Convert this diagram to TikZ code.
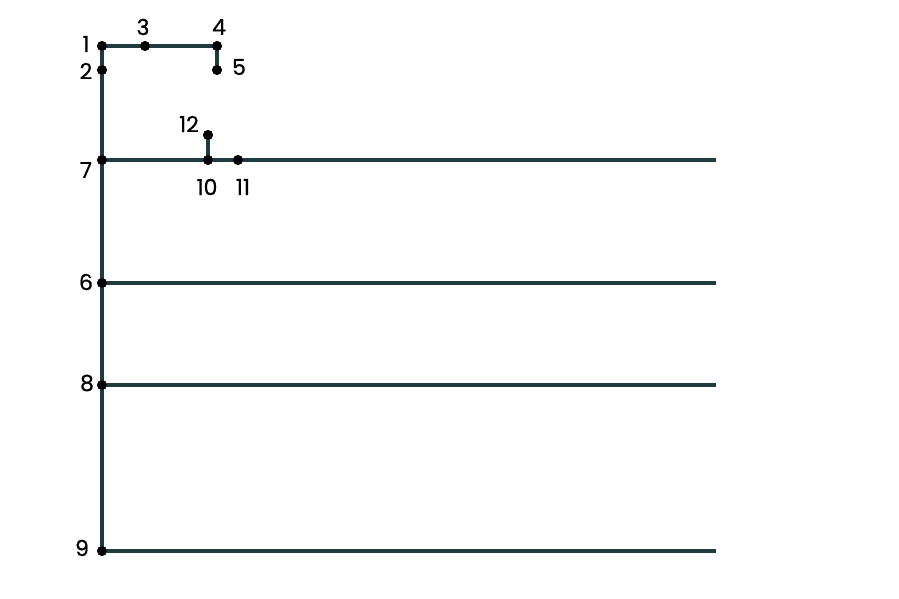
\documentclass[tikz,border=0pt]{standalone}
\usepackage{fontspec}
\setmainfont{Poppins}
\newfontfamily\lblfam{Poppins}[FakeBold=0.6]
\definecolor{ln}{HTML}{1F3B3E}
\newcommand{\lblfont}{\lblfam\fontsize{22pt}{26pt}\selectfont}
\begin{document}
\begin{tikzpicture}[x=1pt,y=-1pt,
  dot/.style={circle,fill=black,inner sep=0pt,minimum size=10pt},
  lbl/.style={font=\lblfont,inner sep=0pt},
  wire/.style={draw=ln,line width=3.1pt}]
\useasboundingbox (0,0) rectangle (899,599);
\coordinate (e7) at (716,160);
\coordinate (e6) at (716,283);
\coordinate (e8) at (716,385);
\coordinate (e9) at (716,551);
\node[dot] (n1) at (102,46) {};
\node[dot] (n2) at (102,70) {};
\node[dot] (n3) at (145,46) {};
\node[dot] (n4) at (217,46) {};
\node[dot] (n5) at (217,70) {};
\node[dot] (n7) at (102,160) {};
\node[dot] (n10) at (208,160) {};
\node[dot] (n11) at (238,160) {};
\node[dot] (n12) at (208,135) {};
\node[dot] (n6) at (102,283) {};
\node[dot] (n8) at (102,385) {};
\node[dot] (n9) at (102,551) {};
\path[wire] (n1.center) -- (n4.center) -- (n5.center);
\path[wire] (n1.center) -- (n9.center);
\path[wire] (n7.center) -- (e7);
\path[wire] (n6.center) -- (e6);
\path[wire] (n8.center) -- (e8);
\path[wire] (n9.center) -- (e9);
\path[wire] (n10.center) -- (n12.center);
\foreach \n in {n1,n2,n3,n4,n5,n7,n10,n11,n12,n6,n8,n9} \fill (\n) circle[radius=4.8pt];
\node[lbl] (l1) at (86,44) {1};
\node[lbl] (l2) at (86,71) {2};
\node[lbl] (l3) at (143,27) {3};
\node[lbl] (l4) at (219,27) {4};
\node[lbl] (l5) at (239,67) {5};
\node[lbl] (l12) at (189,124) {12};
\node[lbl] (l7) at (86,170) {7};
\node[lbl] (l10) at (207,187) {10};
\node[lbl] (l11) at (243,187) {11};
\node[lbl] (l6) at (86,282) {6};
\node[lbl] (l8) at (87,383) {8};
\node[lbl] (l9) at (82,548) {9};
\end{tikzpicture}
\end{document}
